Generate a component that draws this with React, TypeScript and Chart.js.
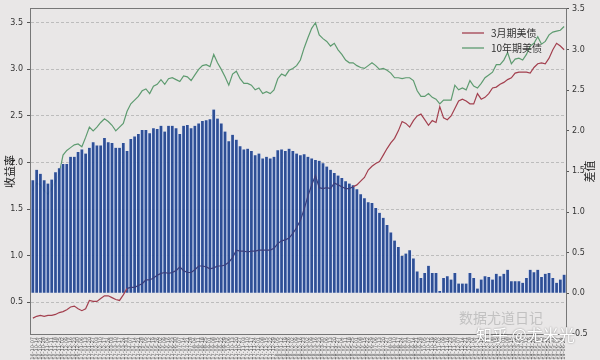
import { useEffect, useRef } from "react";
import { Chart, registerables } from "chart.js";

Chart.register(...registerables);

const LABELS = [
  "2016-10-07","2016-10-14","2016-10-21","2016-10-28","2016-11-04","2016-11-11","2016-11-18","2016-11-25","2016-12-02","2016-12-09","2016-12-16","2016-12-23","2016-12-30",
  "2017-01-06","2017-01-13","2017-01-20","2017-01-27","2017-02-03","2017-02-10","2017-02-17","2017-02-24","2017-03-03","2017-03-10","2017-03-17","2017-03-24","2017-03-31","2017-04-07","2017-04-14","2017-04-21","2017-04-28","2017-05-05","2017-05-12","2017-05-19","2017-05-26","2017-06-02","2017-06-09","2017-06-16","2017-06-23","2017-06-30","2017-07-07","2017-07-14","2017-07-21","2017-07-28","2017-08-04","2017-08-11","2017-08-18","2017-08-25","2017-09-01","2017-09-08","2017-09-15","2017-09-22","2017-09-29","2017-10-06","2017-10-13","2017-10-20","2017-10-27","2017-11-03","2017-11-10","2017-11-17","2017-11-24","2017-12-01","2017-12-08","2017-12-15","2017-12-22","2017-12-29",
  "2018-01-05","2018-01-12","2018-01-19","2018-01-26","2018-02-02","2018-02-09","2018-02-16","2018-02-23","2018-03-02","2018-03-09","2018-03-16","2018-03-23","2018-03-30","2018-04-06","2018-04-13","2018-04-20","2018-04-27","2018-05-04","2018-05-11","2018-05-18","2018-05-25","2018-06-01","2018-06-08","2018-06-15","2018-06-22","2018-06-29","2018-07-06","2018-07-13","2018-07-20","2018-07-27","2018-08-03","2018-08-10","2018-08-17","2018-08-24","2018-08-31","2018-09-07","2018-09-14","2018-09-21","2018-09-28","2018-10-05","2018-10-12","2018-10-19","2018-10-26","2018-11-02","2018-11-09","2018-11-16","2018-11-23","2018-11-30","2018-12-07","2018-12-14","2018-12-21","2018-12-28",
  "2019-01-04","2019-01-11","2019-01-18","2019-01-25","2019-02-01","2019-02-08","2019-02-15","2019-02-22","2019-03-01","2019-03-08","2019-03-15","2019-03-22","2019-03-29","2019-04-05","2019-04-12","2019-04-19","2019-04-26","2019-05-03","2019-05-10","2019-05-17","2019-05-24","2019-05-31","2019-06-07","2019-06-14","2019-06-21",
];

const YIELD_3M = [
  0.33,0.35,0.36,0.35,0.36,0.36,0.37,0.39,0.40,0.42,0.45,0.46,0.43,0.41,0.43,0.52,0.51,0.51,0.54,0.57,
  0.57,0.55,0.53,0.52,0.58,0.65,0.66,0.66,0.68,0.70,0.74,0.74,0.76,0.79,0.81,0.82,0.81,0.82,0.84,0.88,
  0.84,0.82,0.82,0.85,0.89,0.89,0.88,0.86,0.87,0.89,0.89,0.90,0.93,0.98,1.06,1.05,1.05,1.04,1.05,1.05,
  1.06,1.06,1.06,1.06,1.08,1.13,1.16,
  1.17,1.19,1.24,1.30,1.38,1.50,1.64,1.76,1.86,1.73,1.72,1.73,1.72,1.78,1.76,1.74,1.72,1.72,1.74,1.76,
  1.80,1.84,1.92,1.96,1.99,2.01,2.08,2.15,2.21,2.26,2.34,
  2.44,2.42,2.38,2.45,2.50,2.52,2.46,2.40,2.45,2.43,2.60,2.48,2.46,2.50,2.58,2.66,2.68,2.66,2.63,2.63,
  2.74,2.68,2.70,2.74,2.80,2.81,2.84,2.86,2.89,2.91,2.96,2.97,2.97,2.97,2.96,3.02,3.06,3.07,3.06,3.12,
  3.21,3.28,3.25,3.21,
];

const YIELD_10Y = [
  1.70,1.78,1.76,1.70,1.66,1.72,1.80,1.88,2.08,2.13,2.16,2.19,2.20,2.17,2.27,2.38,2.34,2.38,2.43,2.47,
  2.44,2.40,2.34,2.38,2.42,2.55,2.63,2.67,2.71,2.77,2.79,2.74,2.82,2.84,2.89,2.84,2.90,2.91,2.89,2.87,
  2.93,2.92,2.88,2.94,3.00,3.04,3.05,3.03,3.16,3.07,3.00,2.92,2.83,2.95,2.98,2.90,2.85,2.85,2.83,2.78,
  2.80,2.74,2.76,2.74,2.78,2.90,2.95,2.93,2.99,3.01,3.04,3.10,3.23,3.34,3.44,3.50,3.37,3.33,3.30,3.25,
  3.28,3.21,3.16,3.10,3.07,3.07,3.04,3.02,3.01,3.04,3.07,3.04,3.00,3.01,2.99,2.96,2.91,2.91,
  2.90,2.91,2.91,2.88,2.77,2.71,2.71,2.74,2.70,2.68,2.63,2.67,2.67,2.67,2.83,2.78,2.80,2.78,2.88,2.82,
  2.80,2.85,2.91,2.94,2.97,3.05,3.05,3.10,3.18,3.06,3.11,3.12,3.10,3.16,3.25,3.28,3.35,3.27,3.30,3.37,
  3.40,3.41,3.42,3.46,
];

const SPREAD = [
  1.39,1.52,1.47,1.39,1.35,1.40,1.49,1.54,1.59,1.59,1.68,1.68,1.74,1.77,1.72,1.79,1.86,1.82,1.82,1.91,
  1.86,1.85,1.79,1.79,1.85,1.75,1.90,1.93,1.96,2.01,2.01,1.97,
  2.03,2.02,2.06,1.99,2.06,2.06,2.03,1.96,2.06,2.07,2.03,2.06,2.09,2.12,2.13,2.14,2.26,2.15,2.09,1.99,
  1.87,1.95,1.89,1.81,1.77,1.78,1.75,1.70,1.72,1.66,1.68,1.66,1.68,1.76,1.77,
  1.75,1.78,1.75,1.72,1.70,1.71,1.68,1.66,1.64,1.63,1.60,1.56,1.52,1.48,1.45,1.42,1.38,1.35,1.33,1.28,
  1.22,1.17,1.12,1.11,1.05,0.99,0.93,0.84,0.75,0.65,0.57,
  0.46,0.49,0.53,0.43,0.27,0.19,0.25,0.34,0.25,0.25,0.03,0.19,0.21,0.17,0.25,0.12,0.12,0.12,0.25,0.19,
  0.06,0.17,0.21,0.20,0.17,0.24,0.21,0.24,0.29,0.15,0.15,0.15,0.13,0.19,0.29,0.26,0.29,0.20,0.24,0.25,
  0.19,0.13,0.17,0.23,
];

const LEFT_TICKS = [0.5, 1.0, 1.5, 2.0, 2.5, 3.0, 3.5];
const RIGHT_TICKS = [-0.5, 0.0, 0.5, 1.0, 1.5, 2.0, 2.5, 3.0, 3.5];
const SERIES_NAMES = ["3月期美债", "10年期美债"];
const LEFT_TITLE = "收益率";
const RIGHT_TITLE = "差值";
const WATERMARK_1 = "数据尤道日记";
const WATERMARK_2 = "知乎 @尤米光";

const BG = "#e9e7e7";
const RED = "#a3404f";
const RED_IN_BARS = "#3c3f7c";
const GREEN = "#5e9b70";
const CJK = '"Noto Sans CJK SC", "Noto Sans", sans-serif';
const TICK_FONT = { size: 8, family: '"DejaVu Sans", sans-serif' };

export default function App() {
  const ref = useRef<HTMLCanvasElement>(null);

  useEffect(() => {
    const decor = {
      id: "decor",
      beforeDraw(chart: any) {
        const ctx = chart.ctx;
        ctx.save();
        ctx.fillStyle = BG;
        ctx.fillRect(0, 0, chart.width, chart.height);
        ctx.restore();
      },
      afterDraw(chart: any) {
        const ctx = chart.ctx;
        const ca = chart.chartArea;
        ctx.save();
        ctx.strokeStyle = "#777";
        ctx.lineWidth = 1;
        ctx.strokeRect(Math.round(ca.left) - 0.5, Math.round(ca.top) - 0.5, Math.round(ca.right - ca.left) + 1, Math.round(ca.bottom - ca.top) + 1);
        const midY = (ca.top + ca.bottom) / 2;
        ctx.fillStyle = "#222";
        ctx.font = `11px ${CJK}`;
        ctx.textAlign = "center";
        ctx.textBaseline = "middle";
        ctx.save();
        ctx.translate(10, midY);
        ctx.rotate(-Math.PI / 2);
        ctx.fillText(LEFT_TITLE, 0, 0);
        ctx.restore();
        ctx.save();
        ctx.translate(590, midY);
        ctx.rotate(-Math.PI / 2);
        ctx.fillText(RIGHT_TITLE, 0, 0);
        ctx.restore();
        const colors = [RED, GREEN];
        ctx.font = `10px ${CJK}`;
        ctx.textAlign = "left";
        SERIES_NAMES.forEach((name, i) => {
          const y = 33 + i * 15;
          ctx.strokeStyle = colors[i];
          ctx.lineWidth = 1.3;
          ctx.beginPath();
          ctx.moveTo(462, y);
          ctx.lineTo(484, y);
          ctx.stroke();
          ctx.fillStyle = "#333";
          ctx.fillText(name, 491, y);
        });
        ctx.font = `14px ${CJK}`;
        ctx.fillStyle = "rgba(180,180,180,0.75)";
        ctx.fillText(WATERMARK_1, 459, 318);
        ctx.font = `16px ${CJK}`;
        ctx.shadowColor = "rgba(0,0,0,0.45)";
        ctx.shadowBlur = 2;
        ctx.fillStyle = "#ffffff";
        ctx.fillText(WATERMARK_2, 476, 335);
        ctx.restore();
      },
    };

    const insideBars = (c: any) => {
      const ch = c.chart;
      if (!ch || !ch.scales || !ch.scales.y1) return undefined;
      const y1 = ch.scales.y1;
      const base = y1.getPixelForValue(0);
      const topA = y1.getPixelForValue(SPREAD[c.p0DataIndex]);
      const topB = y1.getPixelForValue(SPREAD[c.p1DataIndex]);
      const inA = c.p0.y > topA + 1 && c.p0.y < base;
      const inB = c.p1.y > topB + 1 && c.p1.y < base;
      if (inA && inB) return RED_IN_BARS;
      return undefined;
    };

    const chart = new Chart(ref.current!, {
      type: "bar",
      data: {
        labels: LABELS,
        datasets: [
          {
            type: "line",
            label: SERIES_NAMES[0],
            data: YIELD_3M,
            yAxisID: "y",
            borderColor: RED,
            borderWidth: 1.2,
            pointRadius: 0,
            tension: 0,
            order: -1,
            segment: { borderColor: insideBars },
          } as any,
          {
            type: "line",
            label: SERIES_NAMES[1],
            data: YIELD_10Y,
            yAxisID: "y",
            borderColor: GREEN,
            borderWidth: 1.2,
            pointRadius: 0,
            tension: 0,
            order: 1,
          } as any,
          {
            type: "bar",
            label: RIGHT_TITLE,
            data: SPREAD,
            yAxisID: "y1",
            backgroundColor: "rgba(30,66,142,0.92)",
            borderColor: "rgba(222,230,250,0.9)",
            borderWidth: { left: 0.85, right: 0.85, top: 0, bottom: 0 },
            barPercentage: 1,
            categoryPercentage: 1,
            order: 0,
          } as any,
        ],
      },
      options: {
        responsive: false,
        animation: false,
        devicePixelRatio: 1,
        layout: { padding: { top: 7, left: 0, right: 0, bottom: 0 } },
        plugins: { legend: { display: false }, tooltip: { enabled: false } },
        scales: {
          x: {
            type: "category",
            offset: true,
            grid: { display: false, drawTicks: false },
            border: { display: false },
            ticks: {
              autoSkip: false,
              maxRotation: 90,
              minRotation: 90,
              padding: 3,
              color: "#555",
              font: { size: 5, family: '"DejaVu Sans", sans-serif' },
            },
            afterFit(s: any) {
              s.height = 26;
            },
          },
          y: {
            position: "left",
            min: 0.16,
            max: 3.65,
            afterBuildTicks(s: any) {
              s.ticks = LEFT_TICKS.map((v) => ({ value: v }));
            },
            grid: { color: "#bdbdbd", lineWidth: 1, tickColor: "#555", tickLength: 4, drawTicks: true },
            border: { display: false, dash: [3, 2] },
            ticks: {
              color: "#333",
              font: TICK_FONT,
              padding: 4,
              callback: (v: any) => Number(v).toFixed(1),
            },
            afterFit(s: any) {
              s.width = 31;
            },
          },
          y1: {
            position: "right",
            min: -0.5,
            max: 3.5,
            afterBuildTicks(s: any) {
              s.ticks = RIGHT_TICKS.map((v) => ({ value: v }));
            },
            grid: { drawOnChartArea: false, tickColor: "#555", tickLength: 3, drawTicks: true },
            border: { display: false },
            ticks: {
              color: "#333",
              font: TICK_FONT,
              padding: 3,
              callback: (v: any) => Number(v).toFixed(1),
            },
            afterFit(s: any) {
              s.width = 34;
            },
          },
        },
      } as any,
      plugins: [decor],
    });
    return () => chart.destroy();
  }, []);

  return (
    <div style={{ position: "absolute", left: 0, top: 0, width: 600, height: 360, background: BG, overflow: "hidden" }}>
      <canvas ref={ref} width={600} height={360} style={{ display: "block" }} />
    </div>
  );
}
